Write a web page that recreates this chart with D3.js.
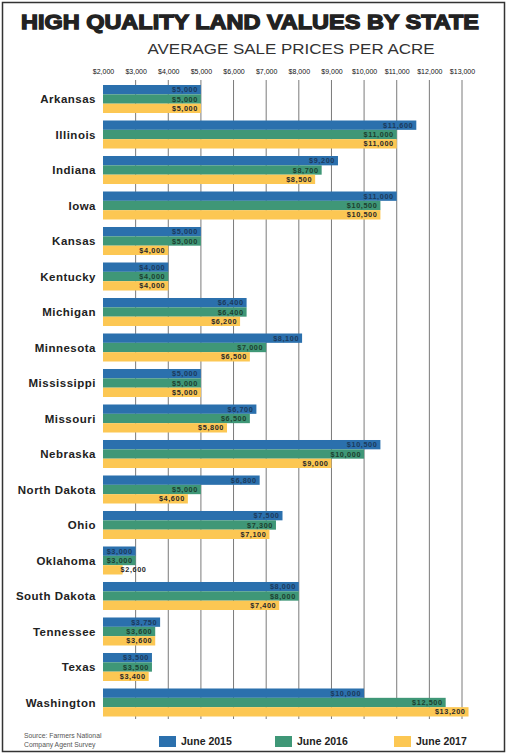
<!DOCTYPE html>
<html>
<head>
<meta charset="utf-8">
<script src="https://cdn.jsdelivr.net/npm/d3@7"></script>
<style>
  html, body { margin: 0; padding: 0; background: #fff; }
  svg { display: block; }
</style>
</head>
<body>
<svg id="chart" width="508" height="754"></svg>
<script>
const states = ["Arkansas","Illinois","Indiana","Iowa","Kansas","Kentucky","Michigan","Minnesota","Mississippi","Missouri","Nebraska","North Dakota","Ohio","Oklahoma","South Dakota","Tennessee","Texas","Washington"];
const june2015 = [5000,11600,9200,11000,5000,4000,6400,8100,5000,6700,10500,6800,7500,3000,8000,3750,3500,10000];
const june2016 = [5000,11000,8700,10500,5000,4000,6400,7000,5000,6500,10000,5000,7300,3000,8000,3600,3500,12500];
const june2017 = [5000,11000,8500,10500,4000,4000,6200,6500,5000,5800,9000,4600,7100,2600,7400,3600,3400,13200];
const seriesNames = ["June 2015","June 2016","June 2017"];
const seriesColors = ["#2b70ad","#3f9777","#fcc753"];
const tickValues = [2000,3000,4000,5000,6000,7000,8000,9000,10000,11000,12000,13000];

const series = [june2015, june2016, june2017];
const svg = d3.select("#chart");
const font = "'Liberation Sans', Arial, sans-serif";

// border
svg.append("rect").attr("x",2.5).attr("y",2.5).attr("width",502).attr("height",749)
  .attr("fill","none").attr("stroke","#333").attr("stroke-width",1.5);

// titles
svg.append("text").attr("x",250).attr("y",29).attr("text-anchor","middle")
  .attr("font-family",font).attr("font-weight","bold").attr("font-size",20.5)
  .attr("fill","#222").attr("stroke","#222").attr("stroke-width",1.3)
  .attr("textLength",458).attr("lengthAdjust","spacingAndGlyphs")
  .text("HIGH QUALITY LAND VALUES BY STATE");
svg.append("text").attr("x",291).attr("y",54).attr("text-anchor","middle")
  .attr("font-family",font).attr("font-size",14).attr("fill","#333")
  .attr("textLength",287).attr("lengthAdjust","spacingAndGlyphs")
  .text("AVERAGE SALE PRICES PER ACRE");

const x = d3.scaleLinear().domain([2000,13000]).range([103,462]);
const y = d3.scaleBand().domain(states).range([85,716.5]).paddingInner(0.211).paddingOuter(0);
const ySub = d3.scaleBand().domain([0,1,2]).range([0,y.bandwidth()]).padding(0);

// gridlines
svg.append("g").selectAll("line").data(tickValues.slice(1)).join("line")
  .attr("x1",d=>x(d)).attr("x2",d=>x(d)).attr("y1",80).attr("y2",719)
  .attr("stroke","#7a7a7a").attr("stroke-width",1);

// top tick labels
const fmt = d3.format("$,");
const axis = d3.axisTop(x).tickValues(tickValues).tickFormat(d=>fmt(d)).tickSize(0).tickPadding(0);
const ag = svg.append("g").attr("transform","translate(0,74)").call(axis);
ag.select(".domain").remove();
ag.selectAll("text").attr("font-family",font).attr("font-size",7).attr("fill","#111")
  .attr("dy",0);

// bars
const groups = svg.append("g").selectAll("g").data(states).join("g")
  .attr("transform",d=>`translate(0,${y(d)})`);

groups.each(function(state, i){
  const g = d3.select(this);
  series.forEach((s, k) => {
    const v = s[i];
    g.append("rect").attr("x",x(2000)).attr("y",ySub(k))
      .attr("width",x(v)-x(2000)).attr("height",ySub.bandwidth())
      .attr("fill",seriesColors[k]);
    const label = fmt(v);
    const inside = (x(v)-x(2000)) > 26;
    g.append("text")
      .attr("x", inside ? x(v)-3 : x(v)-2)
      .attr("y", ySub(k)+ySub.bandwidth()/2)
      .attr("dy","0.36em")
      .attr("text-anchor", inside ? "end" : "start")
      .attr("font-family",font).attr("font-weight","bold").attr("font-size",7.3)
      .attr("letter-spacing",0.6)
      .attr("fill", k===2 ? "#2a2a2a" : (k===0 ? "#1c3a5c" : "#1d3f30"))
      .text(label);
  });
});

// state labels
svg.append("g").selectAll("text").data(states).join("text")
  .attr("x",96).attr("y",d=>y(d)+y.bandwidth()/2).attr("dy","0.36em")
  .attr("text-anchor","end").attr("font-family",font).attr("font-weight","bold")
  .attr("font-size",11.5).attr("fill","#222").attr("letter-spacing",0.5)
  .text(d=>d);

// source
const src = svg.append("text").attr("font-family",font).attr("font-size",6.8).attr("fill","#555");
src.append("tspan").attr("x",24).attr("y",738).text("Source: Farmers National");
src.append("tspan").attr("x",24).attr("y",747).text("Company Agent Survey");

// legend
const legX = [159,275,394];
const leg = svg.append("g").selectAll("g").data(seriesNames).join("g")
  .attr("transform",(d,i)=>`translate(${legX[i]},736)`);
leg.append("rect").attr("width",17).attr("height",11).attr("fill",(d,i)=>seriesColors[i]);
leg.append("text").attr("x",22).attr("y",5.5).attr("dy","0.36em")
  .attr("font-family",font).attr("font-weight","bold").attr("font-size",10.5)
  .attr("fill","#222").text(d=>d);
</script>
</body>
</html>
